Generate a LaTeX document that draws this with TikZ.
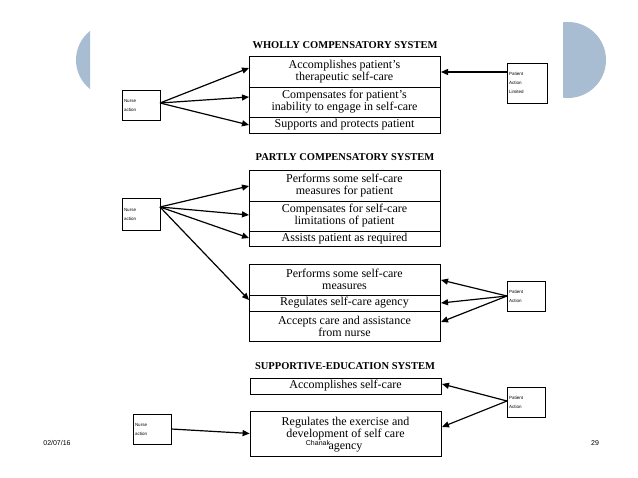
\documentclass[tikz,border=0pt]{standalone}
\usepackage{fontspec}
\setmainfont{Liberation Serif}
\newfontfamily\sansf{Liberation Sans}
\usetikzlibrary{arrows.meta}
\definecolor{deco}{HTML}{A9BDD2}
\begin{document}
\begin{tikzpicture}[x=1pt,y=-1pt,
  bx/.style={draw,thick,inner sep=0pt,align=center,font=\fontsize{12}{12}\selectfont},
  sm/.style={draw,thin,inner sep=0pt,align=left,font=\sansf\fontsize{4.5}{9}\selectfont},
  ttl/.style={font=\bfseries\fontsize{10.5}{11}\selectfont},
  ar/.style={very thick,-{Triangle[length=7pt,width=6pt]}},
  ft/.style={font=\sansf\fontsize{7}{8}\selectfont}]
\useasboundingbox (0,0) rectangle (638,478);
\begin{scope}
\clip (0,0) rectangle (90,478);
\fill[deco] (113,60) circle (37);
\end{scope}
\begin{scope}
\clip (563,0) rectangle (638,478);
\fill[deco] (568,60) circle (38);
\end{scope}
% Wholly
\node[ttl] (t1) at (345,45) {WHOLLY COMPENSATORY SYSTEM};
\node[bx,minimum width=191,minimum height=31] (w1) at (344.5,71.5) {Accomplishes patient's\\therapeutic self-care};
\node[bx,minimum width=191,minimum height=30] (w2) at (344.5,102) {Compensates for patient's\\inability to engage in self-care};
\node[bx,minimum width=191,minimum height=16] (w3) at (344.5,125) {Supports and protects patient};
\node[sm,minimum width=38,minimum height=30,text width=34] (n1) at (141,105) {Nurse\\action};
\node[sm,minimum width=40,minimum height=40,text width=36] (p1) at (527,83) {Patient\\Action\\Limited};
\coordinate (n1e) at (160,103);
\draw[ar] (n1e) -- (249,68);
\draw[ar] (n1e) -- (249,97);
\draw[ar] (n1e) -- (249,125);
\draw[ar] (507,72) -- (441,72);
% Partly
\node[ttl] (t2) at (345,157) {PARTLY COMPENSATORY SYSTEM};
\node[bx,minimum width=191,minimum height=31] (q1) at (344.5,185.5) {Performs some self-care\\measures for patient};
\node[bx,minimum width=191,minimum height=30] (q2) at (344.5,216) {Compensates for self-care\\limitations of patient};
\node[bx,minimum width=191,minimum height=15] (q3) at (344.5,238.5) {Assists patient as required};
\node[sm,minimum width=38,minimum height=32,text width=34] (n2) at (141,214) {Nurse\\action};
\coordinate (n2e) at (160,207);
\draw[ar] (n2e) -- (249,186);
\draw[ar] (n2e) -- (249,215);
\draw[ar] (n2e) -- (249,238);
\draw[ar] (n2e) -- (249,300);
\node[bx,minimum width=191,minimum height=31] (r1) at (344.5,279.5) {Performs some self-care\\measures};
\node[bx,minimum width=191,minimum height=16] (r2) at (344.5,303) {Regulates self-care agency};
\node[bx,minimum width=191,minimum height=30] (r3) at (344.5,326) {Accepts care and assistance\\from nurse};
\node[sm,minimum width=38,minimum height=30,text width=34] (p2) at (526,296) {Patient\\Action};
\coordinate (p2w) at (507,296);
\draw[ar] (p2w) -- (441,280);
\draw[ar] (p2w) -- (441,303);
\draw[ar] (p2w) -- (441,322);
% Supportive
\node[ttl] (t3) at (345,366) {SUPPORTIVE-EDUCATION SYSTEM};
\node[bx,minimum width=191,minimum height=16] (s1) at (345.5,386) {Accomplishes self-care};
\node[bx,minimum width=191,minimum height=45,text depth=0pt] (s2) at (345.5,433.5) {Regulates the exercise and\\development of self care\\agency};
\node[sm,minimum width=38,minimum height=30,text width=34] (p3) at (526,402) {Patient\\Action};
\node[sm,minimum width=38,minimum height=30,text width=34] (n3) at (152,429) {Nurse\\action};
\coordinate (p3w) at (507,401);
\draw[ar] (p3w) -- (442,384);
\draw[ar] (p3w) -- (442,427);
\draw[ar] (n3.east) -- (s2.west);
\node[ft] (d) at (57,443) {02/07/16};
\node[ft] (c) at (318,443) {Chanak};
\node[ft] (pg) at (595,443) {29};
\end{tikzpicture}
\end{document}
